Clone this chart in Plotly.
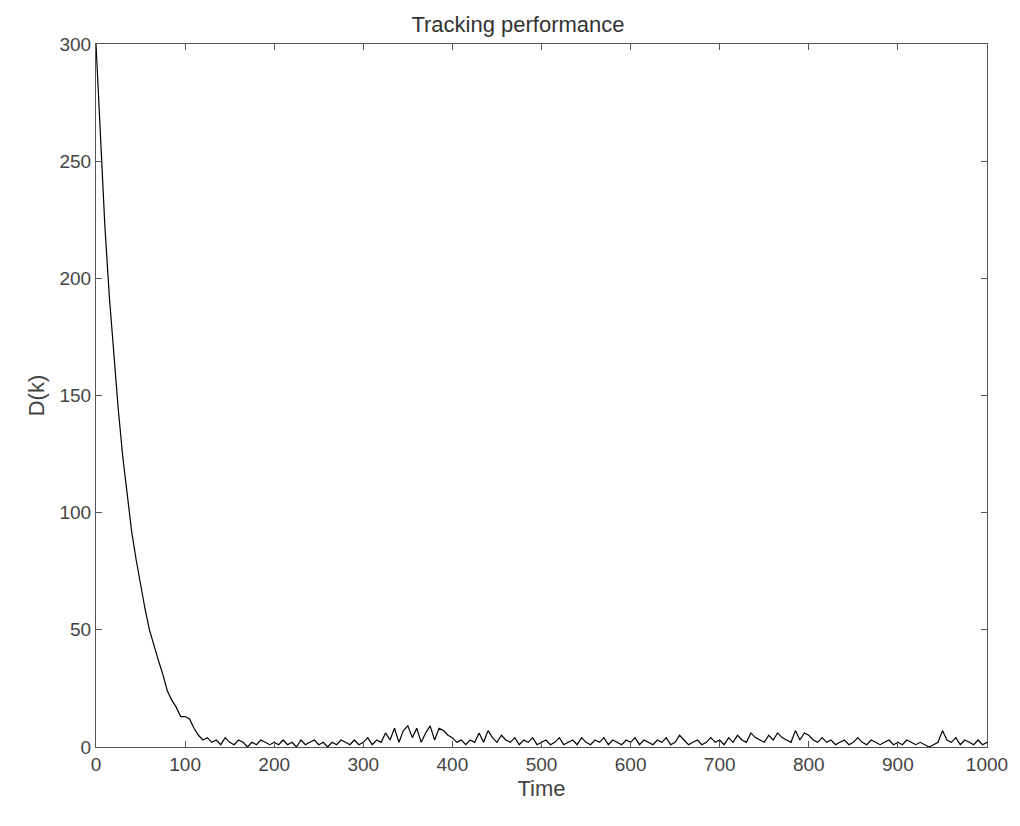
import plotly.graph_objects as go

time = list(range(0, 1001, 5))
decay = [300, 258, 222, 192, 166, 144, 124, 107, 92, 80, 69, 59, 50, 43, 37, 31, 24, 20, 17, 13,
         13, 12, 8, 5, 3, 4, 2]
tail = [3, 1, 4, 2, 1, 3, 2, 0, 2, 1, 3, 2, 1,
        2, 1, 3, 1, 2, 0, 3, 1, 2, 3, 1, 2, 0, 2, 1, 3, 2, 1, 3, 1,
        2, 4, 1, 3, 2, 6, 3, 8, 2, 7, 9, 4, 8, 2, 6, 9, 3, 8, 7, 5,
        4, 2, 3, 1, 3, 2, 6, 2, 7, 4, 2, 5, 3, 2, 4, 1, 3, 2, 4, 1,
        2, 3, 1, 2, 4, 1, 2, 3, 1, 4, 2, 1, 3, 2, 4, 1, 3, 2, 1, 3,
        2, 4, 1, 3, 2, 1, 3, 2, 4, 1, 2, 5, 3, 1, 2, 3, 1, 2, 4, 2,
        3, 1, 4, 2, 5, 3, 2, 6, 4, 3, 2, 5, 3, 6, 4, 3, 2, 7, 3, 6,
        5, 3, 2, 4, 2, 3, 1, 2, 3, 1, 2, 4, 2, 1, 3, 2, 1, 2, 3, 1,
        2, 1, 3, 2, 1, 2, 1, 0, 1, 2, 7, 3, 2, 4, 1, 3, 2, 1, 3, 1, 2]
dk = decay + tail

fig = go.Figure(go.Scatter(x=time, y=dk, mode="lines", line=dict(color="black", width=1.2)))

axis = dict(showgrid=False, zeroline=False, showline=True, linecolor="#555", linewidth=1,
            mirror="ticks", ticks="inside", ticklen=6, tickcolor="#555",
            tickfont=dict(size=19, color="#444"))
fig.update_xaxes(range=[0, 1000], dtick=100, title=dict(text="Time", font=dict(size=22, color="#444"), standoff=6), **axis)
fig.update_yaxes(range=[0, 300], dtick=50, title=dict(text="D(k)", font=dict(size=22, color="#444"), standoff=8), **axis)
fig.update_layout(
    width=1020, height=826, template="simple_white",
    font=dict(family="Liberation Sans, Arial", color="#444"),
    title=dict(text="Tracking performance", x=0.5, xanchor="center", y=0.99, yanchor="top",
               font=dict(size=22, color="#333")),
    margin=dict(l=88, r=41, t=36, b=87),
    plot_bgcolor="white", paper_bgcolor="white", showlegend=False,
)
fig.write_html("out.html")
